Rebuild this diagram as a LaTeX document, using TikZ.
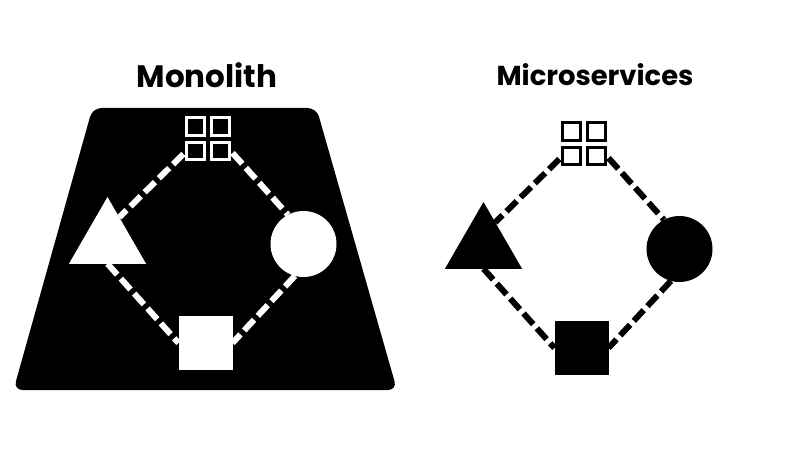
\documentclass[tikz,border=0pt]{standalone}
\usepackage{fontspec}
\setmainfont{Poppins}
\usetikzlibrary{shapes.geometric}

\tikzset{
  title/.style={anchor=base, inner sep=0pt},
  cell/.style={draw=#1, line width=2.6pt, minimum size=17.5pt, inner sep=0pt},
  link/.style={draw=#1, line width=6pt, dash pattern=on 14.5pt off 5.5pt},
}

\begin{document}
\begin{tikzpicture}[x=1pt, y=-1pt]

  \useasboundingbox (0,0) rectangle (800,449);

  % Monolith box
  \fill[black, rounded corners=9pt] (92.5,108) -- (316.5,108) -- (397,390) -- (13.5,390) -- cycle;

  % Titles
  \node[title, font=\bfseries\fontsize{31}{31}\selectfont] (montitle) at (207,88) {Monolith};
  \node[title, font=\bfseries\fontsize{27.4}{27.4}\selectfont] (mictitle) at (595,86) {Microservices};

  % Same four parts on both sides
  \foreach \sys/\fg/\dx/\dy in {mono/white/0/0, micro/black/376/5} {
    \begin{scope}[shift={(\dx,\dy)}]
      \node[cell=\fg] (\sys-a) at (195.5,126.5) {};
      \node[cell=\fg] (\sys-b) at (220.5,126.5) {};
      \node[cell=\fg] (\sys-c) at (195.5,151) {};
      \node[cell=\fg] (\sys-d) at (220.5,151) {};
      \node[regular polygon, regular polygon sides=3, fill=\fg, minimum size=89pt, inner sep=0pt, outer sep=0pt] (\sys-tri) at (107.5,241.5) {};
      \node[circle, fill=\fg, minimum size=66pt, inner sep=0pt, outer sep=0pt] (\sys-cir) at (303.5,244) {};
      \node[rectangle, fill=\fg, minimum size=54pt, inner sep=0pt, outer sep=0pt] (\sys-sq) at (205.5,343) {};

      \draw[link=\fg] ([shift={(-2,3)}]\sys-c.west) -- (\sys-tri.64);
      \draw[link=\fg] ([shift={(2,2)}]\sys-d.east) -- (\sys-cir.118);
      \draw[link=\fg] (\sys-tri.270) -- (\sys-sq.west);
      \draw[link=\fg] (\sys-cir.255) -- (\sys-sq.east);
    \end{scope}
  }

\end{tikzpicture}
\end{document}
